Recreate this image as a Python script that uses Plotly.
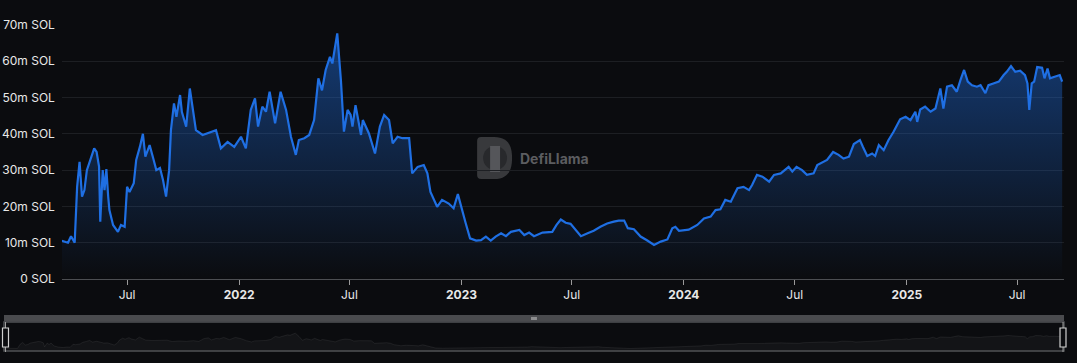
import plotly.graph_objects as go

# ---------------- data (millions of SOL) ----------------
dates = [
    "2021-03-16", "2021-03-26", "2021-03-31", "2021-04-06", "2021-04-10", "2021-04-14",
    "2021-04-18", "2021-04-22", "2021-04-26", "2021-04-30", "2021-05-08", "2021-05-12",
    "2021-05-16", "2021-05-18", "2021-05-22", "2021-05-25", "2021-05-28", "2021-05-31",
    "2021-06-02", "2021-06-08", "2021-06-16", "2021-06-21", "2021-06-27", "2021-07-01",
    "2021-07-05", "2021-07-12", "2021-07-16", "2021-07-22", "2021-07-27", "2021-07-31",
    "2021-08-07", "2021-08-13", "2021-08-18", "2021-08-24", "2021-08-29", "2021-09-03",
    "2021-09-08", "2021-09-11", "2021-09-16", "2021-09-20", "2021-09-26", "2021-09-29",
    "2021-10-06", "2021-10-12", "2021-10-17", "2021-10-22", "2021-11-02", "2021-11-16",
    "2021-11-24", "2021-12-02", "2021-12-13", "2021-12-24",
    "2022-01-04", "2022-01-12", "2022-01-20", "2022-01-27", "2022-02-01", "2022-02-08",
    "2022-02-14", "2022-02-20", "2022-03-01", "2022-03-10", "2022-03-19", "2022-03-27",
    "2022-04-04", "2022-04-09", "2022-04-18", "2022-04-26", "2022-05-04", "2022-05-11",
    "2022-05-17", "2022-05-23", "2022-05-30", "2022-06-03", "2022-06-11", "2022-06-17",
    "2022-06-22", "2022-06-28", "2022-07-03", "2022-07-06", "2022-07-11", "2022-07-20",
    "2022-07-23", "2022-08-02", "2022-08-12", "2022-08-20", "2022-08-27", "2022-09-04",
    "2022-09-10", "2022-09-18", "2022-09-26", "2022-10-07", "2022-10-12", "2022-10-21",
    "2022-10-31", "2022-11-06", "2022-11-11", "2022-11-22", "2022-11-30", "2022-12-11",
    "2022-12-19", "2022-12-26",
    "2023-01-03", "2023-01-08", "2023-01-15", "2023-01-25", "2023-02-02", "2023-02-10",
    "2023-02-18", "2023-02-26", "2023-03-07", "2023-03-15", "2023-03-23", "2023-04-06",
    "2023-04-14", "2023-04-22", "2023-04-30", "2023-05-14", "2023-05-30", "2023-06-06",
    "2023-06-13", "2023-06-21", "2023-06-29", "2023-07-07", "2023-07-16", "2023-07-27",
    "2023-08-06", "2023-08-17", "2023-08-28", "2023-09-08", "2023-09-16", "2023-09-25",
    "2023-10-01", "2023-10-11", "2023-10-22", "2023-11-02", "2023-11-13", "2023-11-24",
    "2023-12-05", "2023-12-13", "2023-12-18", "2023-12-24",
    "2024-01-09", "2024-01-23", "2024-02-03", "2024-02-14", "2024-02-22", "2024-03-01",
    "2024-03-09", "2024-03-18", "2024-03-29", "2024-04-08", "2024-04-17", "2024-04-22",
    "2024-04-30", "2024-05-09", "2024-05-20", "2024-05-28", "2024-06-08", "2024-06-21",
    "2024-06-27", "2024-07-04", "2024-07-13", "2024-07-21", "2024-08-01", "2024-08-07",
    "2024-08-18", "2024-08-23", "2024-09-02", "2024-09-11", "2024-09-19", "2024-09-28",
    "2024-10-06", "2024-10-16", "2024-10-21", "2024-10-28", "2024-11-05", "2024-11-10",
    "2024-11-16", "2024-11-24", "2024-12-02", "2024-12-10", "2024-12-21", "2024-12-30",
    "2025-01-07", "2025-01-15", "2025-01-18", "2025-01-23", "2025-01-31", "2025-02-09",
    "2025-02-17", "2025-02-25", "2025-03-02", "2025-03-08", "2025-03-16", "2025-03-24",
    "2025-03-30", "2025-04-05", "2025-04-11", "2025-04-18", "2025-04-26", "2025-05-02",
    "2025-05-10", "2025-05-15", "2025-05-23", "2025-06-01", "2025-06-09", "2025-06-14",
    "2025-06-21", "2025-06-28", "2025-07-06", "2025-07-14", "2025-07-18", "2025-07-21",
    "2025-07-25", "2025-07-29", "2025-08-03", "2025-08-11", "2025-08-15", "2025-08-20",
    "2025-08-24", "2025-09-02", "2025-09-09", "2025-09-13",
]

tvl_m_sol = [
    10.5, 10.0, 11.8, 10.0, 25.4, 32.3,
    22.7, 24.5, 30.0, 32.0, 36.0, 35.0,
    31.0, 15.8, 30.0, 24.5, 30.3, 22.7,
    19.0, 14.9, 13.0, 14.9, 14.4, 25.4,
    24.0, 26.4, 32.8, 36.4, 40.0, 33.7,
    36.9, 33.2, 30.0, 30.6, 27.3, 22.7,
    30.0, 41.0, 48.4, 44.7, 50.7, 46.0,
    42.0, 52.5, 46.6, 41.0, 39.7, 40.6,
    41.0, 36.0, 37.8, 36.4,
    39.2, 36.0, 46.6, 49.8, 42.0, 47.5,
    46.1, 51.6, 42.9, 51.6, 46.6, 39.2,
    34.2, 38.3, 38.8, 39.7, 43.8, 55.3,
    52.0, 57.6, 61.2, 59.4, 67.7, 54.8,
    40.6, 46.6, 45.2, 42.0, 47.9, 39.7,
    43.8, 40.1, 34.6, 42.0, 45.2, 43.8,
    37.4, 39.2, 38.8, 38.8, 29.1, 30.9,
    31.4, 29.1, 24.0, 19.9, 21.8, 20.8,
    19.5, 23.4,
    18.1, 15.3, 11.2, 10.6, 10.7, 11.7,
    10.6, 11.7, 12.6, 11.8, 13.0, 13.5,
    12.1, 12.8, 11.8, 12.8, 13.0, 14.9,
    16.4, 15.5, 15.2, 13.5, 11.8, 12.6,
    13.3, 14.4, 15.3, 15.8, 16.1, 16.1,
    14.0, 13.7, 11.7, 10.6, 9.4, 10.3,
    10.9, 14.0, 14.4, 13.3,
    13.6, 14.9, 16.7, 17.2, 19.0, 19.2,
    21.8, 21.3, 25.0, 25.4, 24.5, 25.9,
    28.7, 28.2, 26.8, 28.7, 29.1, 30.9,
    29.6, 30.9, 30.0, 28.7, 29.1, 31.4,
    32.3, 32.8, 35.0, 34.2, 33.2, 33.7,
    37.2, 38.3, 36.4, 33.9, 34.6, 33.9,
    36.9, 35.5, 38.3, 40.5, 44.0, 44.7,
    43.8, 46.1, 43.3, 46.7, 47.5, 46.1,
    47.0, 52.5, 47.0, 53.0, 53.4, 51.6,
    54.8, 57.6, 54.4, 53.4, 53.0, 53.4,
    51.2, 53.4, 53.9, 54.4, 56.2, 57.1,
    58.7, 57.1, 57.4, 56.2, 53.9, 46.6,
    53.9, 54.4, 58.4, 58.2, 55.3, 58.0,
    55.3, 55.8, 56.2, 54.4,
]

y_tick_vals = [0, 10, 20, 30, 40, 50, 60, 70]
y_tick_text = ["0 SOL", "10m SOL", "20m SOL", "30m SOL", "40m SOL", "50m SOL", "60m SOL", "70m SOL"]

x_tick_vals = ["2021-07-01", "2022-01-01", "2022-07-01", "2023-01-01", "2023-07-01",
               "2024-01-01", "2024-07-01", "2025-01-01", "2025-07-01"]
x_tick_text = ["Jul", "<b>2022</b>", "Jul", "<b>2023</b>", "Jul",
               "<b>2024</b>", "Jul", "<b>2025</b>", "Jul"]

x_range = ["2021-03-16", "2025-09-16"]

# ---------------- layout geometry (pixels -> paper) ----------------
W, H = 1077, 363
ML, MR, MT, MB = 2, 13, 25, 11
PW, PH = W - ML - MR, H - MT - MB


def fx(px):
    return (px - ML) / PW


def fy(py):
    return (H - MB - py) / PH


BG = "#0b0c0f"
LINE = "#1f6fe3"
FONT = "Inter"

fig = go.Figure()

fig.add_trace(go.Scatter(
    x=dates, y=tvl_m_sol, mode="lines",
    line=dict(color=LINE, width=2.2),
    fill="tozeroy",
    fillgradient=dict(type="vertical",
                      colorscale=[[0, "rgba(31,111,227,0.0)"], [1, "rgba(31,111,227,0.5)"]],
                      start=0, stop=70),
    xaxis="x", yaxis="y", hoverinfo="x+y", showlegend=False,
))

# mini chart inside the zoom slider
fig.add_trace(go.Scatter(
    x=dates, y=tvl_m_sol, mode="lines",
    line=dict(color="rgba(255,255,255,0.07)", width=1),
    fill="tozeroy", fillcolor="rgba(255,255,255,0.035)",
    xaxis="x2", yaxis="y2", hoverinfo="skip", showlegend=False,
))

shapes = []
# slider top bar
shapes.append(dict(type="rect", xref="paper", yref="paper",
                   x0=fx(2), x1=fx(1064), y0=fy(321.5), y1=fy(315),
                   fillcolor="#4a4b4e", line=dict(width=0), layer="above"))
for gx in (531, 533, 535):
    shapes.append(dict(type="line", xref="paper", yref="paper",
                       x0=fx(gx), x1=fx(gx), y0=fy(320), y1=fy(317),
                       line=dict(color="#d0d0d0", width=1), layer="above"))
# slider frame
shapes.append(dict(type="rect", xref="paper", yref="paper",
                   x0=fx(2), x1=fx(1064), y0=fy(351), y1=fy(322),
                   fillcolor="rgba(0,0,0,0)", line=dict(color="#505256", width=1.5), layer="above"))
# handles
for hx in (3.5, 1063):
    shapes.append(dict(type="line", xref="paper", yref="paper",
                       x0=fx(hx), x1=fx(hx), y0=fy(352), y1=fy(322),
                       line=dict(color="#a0a0a0", width=1), layer="above"))
    shapes.append(dict(type="rect", xref="paper", yref="paper",
                       x0=fx(hx - 3), x1=fx(hx + 3), y0=fy(347), y1=fy(328),
                       fillcolor=BG, line=dict(color="#cfcfcf", width=1.2), layer="above"))

# watermark logo (D shape)
x0l, x1l, yt, yb = 476, 511, 137, 179
path = (f"M {fx(x0l+4)},{fy(yt)} L {fx(x0l+17)},{fy(yt)} "
        f"C {fx(x1l-3)},{fy(yt)} {fx(x1l)},{fy(yt+10)} {fx(x1l)},{fy((yt+yb)/2)} "
        f"C {fx(x1l)},{fy(yb-10)} {fx(x1l-3)},{fy(yb)} {fx(x0l+17)},{fy(yb)} "
        f"L {fx(x0l+4)},{fy(yb)} Q {fx(x0l)},{fy(yb)} {fx(x0l)},{fy(yb-4)} "
        f"L {fx(x0l)},{fy(yt+4)} Q {fx(x0l)},{fy(yt)} {fx(x0l+4)},{fy(yt)} Z")
shapes.append(dict(type="path", xref="paper", yref="paper", path=path,
                   fillcolor="#38393c", line=dict(width=0), layer="below"))
shapes.append(dict(type="circle", xref="paper", yref="paper",
                   x0=fx(482), x1=fx(506), y0=fy(170), y1=fy(146),
                   fillcolor="#28292c", line=dict(width=0), layer="below"))
shapes.append(dict(type="rect", xref="paper", yref="paper",
                   x0=fx(489), x1=fx(499), y0=fy(172), y1=fy(146),
                   fillcolor="#55565a", line=dict(width=0), layer="below"))

fig.update_layout(
    width=W, height=H,
    margin=dict(l=ML, r=MR, t=MT, b=MB),
    paper_bgcolor=BG, plot_bgcolor=BG,
    font=dict(family=FONT, size=12, color="#e8e8e8"),
    showlegend=False,
    shapes=shapes,
    annotations=[dict(
        text="<b>DefiLlama</b>", xref="paper", yref="paper",
        x=fx(554), y=fy(158), xanchor="center", yanchor="middle",
        showarrow=False, font=dict(family=FONT, size=14, color="#5c5d60"),
    )],
    xaxis=dict(
        domain=[fx(60), fx(1064)], anchor="y", type="date", range=x_range,
        tickvals=x_tick_vals, ticktext=x_tick_text,
        showgrid=False, zeroline=False,
        showline=True, linecolor="#4c4e52", linewidth=1,
        ticks="outside", ticklen=5, tickcolor="#9a9a9a", tickwidth=1,
        tickfont=dict(size=12, color="#e8e8e8"),
        fixedrange=True,
    ),
    yaxis=dict(
        domain=[fy(279), fy(25)], anchor="x", range=[0, 70],
        tickvals=y_tick_vals, ticktext=y_tick_text,
        showgrid=True, gridcolor="#1d1f23", gridwidth=1,
        zeroline=False, showline=False, ticks="",
        ticklabelstandoff=6,
        tickfont=dict(size=12, color="#e8e8e8"),
        fixedrange=True,
    ),
    xaxis2=dict(
        domain=[fx(2), fx(1064)], anchor="y2", type="date", range=x_range,
        showgrid=False, zeroline=False, showline=False, showticklabels=False, ticks="",
        fixedrange=True,
    ),
    yaxis2=dict(
        domain=[fy(351), fy(322)], anchor="x2", range=[0, 110],
        showgrid=False, zeroline=False, showline=False, showticklabels=False, ticks="",
        fixedrange=True,
    ),
)

fig.write_html(
    "out.html",
    config={"displayModeBar": False},
    post_script="document.body.style.margin='0';document.body.style.background='%s';" % BG,
)
